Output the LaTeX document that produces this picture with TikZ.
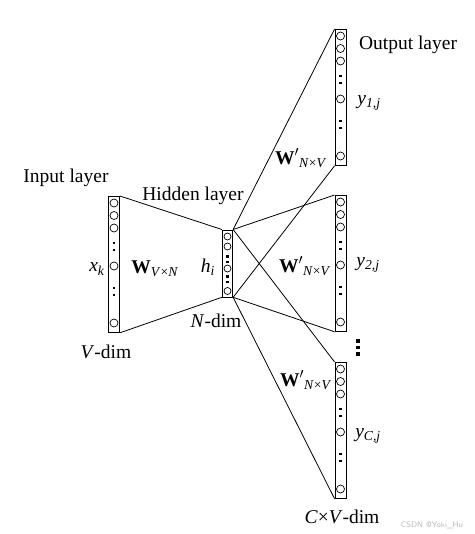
\documentclass[tikz,border=0pt]{standalone}
\usepackage{fontspec}
\setmainfont{Liberation Serif}
\usepackage{tikz}

\tikzset{
  layerbox/.style={draw, line width=0.8pt, minimum width=11pt, inner sep=0pt},
  unit/.style={draw, circle, line width=0.7pt, minimum size=8pt, inner sep=0pt},
  dotmark/.style={fill, minimum size=2.8pt, inner sep=0pt},
  wire/.style={line width=0.8pt},
  lbl/.style={font=\fontsize{19.5}{23}\selectfont, inner sep=0pt},
}

\begin{document}
\begin{tikzpicture}[x=1pt,y=-1pt]
\useasboundingbox (0,0) rectangle (474,534);
% the four word layers and the hidden layer
\node[layerbox, minimum height=136pt, anchor=north] (in) at (114,196) {};
\node[layerbox, minimum height=67pt, minimum width=10.5pt, anchor=north] (hid) at (227.5,229.5) {};
\node[layerbox, minimum height=136pt, anchor=north] (out1) at (340.5,29) {};
\node[layerbox, minimum height=136pt, anchor=north] (out2) at (340.5,195) {};
\node[layerbox, minimum height=136pt, anchor=north] (out3) at (340.5,362) {};
% units of the V-dim columns
\foreach \col in {in,out1,out2,out3}{
  \foreach \dy [count=\i] in {7,19.5,32,70,127}
    \node[unit] (\col-u\i) at ([yshift=-\dy pt]\col.north) {};
  \foreach \dy [count=\i] in {47,54,92,99}
    \node[dotmark] (\col-d\i) at ([yshift=-\dy pt]\col.north) {};
}
% units of the hidden layer
\foreach \dy [count=\i] in {7,17,39,61.5}
  \node[unit, minimum size=7pt] (hid-u\i) at ([yshift=-\dy pt]hid.north) {};
\foreach \dy [count=\i] in {27,32.5,47,52.5}
  \node[dotmark] (hid-d\i) at ([yshift=-\dy pt]hid.north) {};
% weights
\draw[wire] (in.north east) -- (hid.north west);
\draw[wire] (in.south east) -- (hid.south west);
\foreach \col in {out1,out2,out3}{
  \draw[wire] (hid.north east) -- (\col.north west);
  \draw[wire] (hid.south east) -- (\col.south west);
}
% more output panels
\foreach \k in {0,1,2}
  \node[dotmark, minimum size=3.2pt] (more\k) at (358,{341+6.5*\k}) {};
% labels
\node[lbl] (inlbl) at (66,178) {Input layer};
\node[lbl] (hidlbl) at (193,196) {Hidden layer};
\node[lbl] (outlbl) at (408,45) {Output layer};
\node[lbl] (xk) at (97,269) {\textit{x}\textsubscript{\textit{k}}};
\node[lbl] (win) at (155,269) {\textbf{W}\textsubscript{\textit{V}×\textit{N}}};
\node[lbl] (hi) at (208,267) {\textit{h}\textsubscript{\textit{i}}};
\node[lbl] (ndim) at (216,321) {\textit{N}-dim};
\node[lbl] (vdim) at (106,352) {\textit{V}-dim};
\node[lbl] (wout1) at (301,158) {\textbf{W}$'$\textsubscript{\textit{N}×\textit{V}}};
\node[lbl] (wout2) at (305,266) {\textbf{W}$'$\textsubscript{\textit{N}×\textit{V}}};
\node[lbl] (wout3) at (306,380) {\textbf{W}$'$\textsubscript{\textit{N}×\textit{V}}};
\node[lbl] (y1) at (369,103) {\textit{y}\textsubscript{\textit{1,j}}};
\node[lbl] (y2) at (368,265) {\textit{y}\textsubscript{\textit{2,j}}};
\node[lbl] (yc) at (368,436) {\textit{y}\textsubscript{\textit{C,j}}};
\node[lbl] (cvdim) at (342,517) {\textit{C}×\textit{V}-dim};
\node[font=\sffamily\fontsize{8}{9}\selectfont, text=gray!55] (mark) at (432,525) {CSDN @Yoki\_Hu};
\end{tikzpicture}
\end{document}
